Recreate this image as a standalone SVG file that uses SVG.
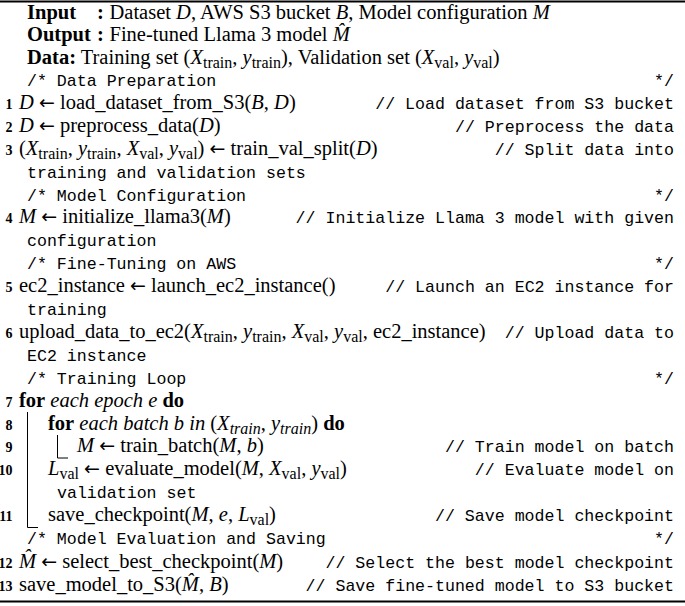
<svg xmlns="http://www.w3.org/2000/svg" width="685" height="606" viewBox="0 0 685 606">
<style>
text { fill: #000; }
.rm { font-family: "Liberation Serif", "DejaVu Serif", serif; font-size: 20.5px; }
.b { font-weight: bold; }
.i { font-style: italic; }
.sub { font-size: 16px; }
.ar { font-family: "DejaVu Sans", sans-serif; font-size: 19px; }
.tt { font-family: "Liberation Mono", "DejaVu Sans Mono", monospace; font-size: 16.6px; }
.cm { font-family: "Liberation Mono", "DejaVu Sans Mono", monospace; font-size: 16.6px; text-anchor: end; }
.ln { font-family: "Liberation Serif", "DejaVu Serif", serif; font-size: 14px; font-weight: bold; text-anchor: end; }
.rule { stroke: #000; stroke-width: 2; }
.bar { stroke: #000; stroke-width: 1; fill: none; }
</style>
<line class="rule" x1="0" y1="1.5" x2="685" y2="1.5"/>
<line class="rule" x1="0" y1="601.5" x2="685" y2="601.5"/>

<g id="header">
<text class="rm" y="19"><tspan x="27" class="b">Input</tspan><tspan x="97" class="b">:</tspan><tspan x="109.5">Dataset </tspan><tspan class="i">D</tspan><tspan>, AWS S3 bucket </tspan><tspan class="i">B</tspan><tspan>, Model configuration </tspan><tspan class="i">M</tspan></text>
<text class="rm" y="41.3"><tspan x="27" class="b">Output</tspan><tspan x="97" class="b">:</tspan><tspan x="109.5">Fine-tuned Llama 3 model </tspan><tspan class="i">M&#770;</tspan></text>
<text class="rm" y="63.6"><tspan x="27" class="b">Data:</tspan><tspan> Training set (</tspan><tspan class="i">X</tspan><tspan class="sub" dy="4">train</tspan><tspan dy="-4">, </tspan><tspan class="i">y</tspan><tspan class="sub" dy="4">train</tspan><tspan dy="-4">), Validation set (</tspan><tspan class="i">X</tspan><tspan class="sub" dy="4">val</tspan><tspan dy="-4">, </tspan><tspan class="i">y</tspan><tspan class="sub" dy="4">val</tspan><tspan dy="-4">)</tspan></text>
</g>

<g id="sec-data-preparation">
<text class="tt" x="27" y="86">/* Data Preparation</text>
<text class="cm" x="674" y="86">*/</text>
</g>

<g id="line-1">
<text class="ln" x="12.5" y="108.9">1</text>
<text class="rm" x="19" y="108.9"><tspan class="i">D</tspan><tspan> </tspan><tspan class="ar">←</tspan><tspan> load_dataset_from_S3(</tspan><tspan class="i">B</tspan><tspan>, </tspan><tspan class="i">D</tspan><tspan>)</tspan></text>
<text class="cm" x="674" y="108.9">// Load dataset from S3 bucket</text>
</g>

<g id="line-2">
<text class="ln" x="12.5" y="131.8">2</text>
<text class="rm" x="19" y="131.8"><tspan class="i">D</tspan><tspan> </tspan><tspan class="ar">←</tspan><tspan> preprocess_data(</tspan><tspan class="i">D</tspan><tspan>)</tspan></text>
<text class="cm" x="674" y="131.8">// Preprocess the data</text>
</g>

<g id="line-3">
<text class="ln" x="12.5" y="154.7">3</text>
<text class="rm" x="19" y="154.7"><tspan>(</tspan><tspan class="i">X</tspan><tspan class="sub" dy="4">train</tspan><tspan dy="-4">, </tspan><tspan class="i">y</tspan><tspan class="sub" dy="4">train</tspan><tspan dy="-4">, </tspan><tspan class="i">X</tspan><tspan class="sub" dy="4">val</tspan><tspan dy="-4">, </tspan><tspan class="i">y</tspan><tspan class="sub" dy="4">val</tspan><tspan dy="-4">) </tspan><tspan class="ar">←</tspan><tspan> train_val_split(</tspan><tspan class="i">D</tspan><tspan>)</tspan></text>
<text class="cm" x="674" y="154.7">// Split data into</text>
<text class="tt" x="27" y="177.6">training and validation sets</text>
</g>

<g id="sec-model-configuration">
<text class="tt" x="27" y="200.5">/* Model Configuration</text>
<text class="cm" x="674" y="200.5">*/</text>
</g>

<g id="line-4">
<text class="ln" x="12.5" y="223.4">4</text>
<text class="rm" x="19" y="223.4"><tspan class="i">M</tspan><tspan> </tspan><tspan class="ar">←</tspan><tspan> initialize_llama3(</tspan><tspan class="i">M</tspan><tspan>)</tspan></text>
<text class="cm" x="674" y="223.4">// Initialize Llama 3 model with given</text>
<text class="tt" x="27" y="246.3">configuration</text>
</g>

<g id="sec-fine-tuning">
<text class="tt" x="27" y="269.2">/* Fine-Tuning on AWS</text>
<text class="cm" x="674" y="269.2">*/</text>
</g>

<g id="line-5">
<text class="ln" x="12.5" y="292.1">5</text>
<text class="rm" x="19" y="292.1"><tspan>ec2_instance </tspan><tspan class="ar">←</tspan><tspan> launch_ec2_instance()</tspan></text>
<text class="cm" x="674" y="292.1">// Launch an EC2 instance for</text>
<text class="tt" x="27" y="315">training</text>
</g>

<g id="line-6">
<text class="ln" x="12.5" y="337.9">6</text>
<text class="rm" x="19" y="337.9"><tspan>upload_data_to_ec2(</tspan><tspan class="i">X</tspan><tspan class="sub" dy="4">train</tspan><tspan dy="-4">, </tspan><tspan class="i">y</tspan><tspan class="sub" dy="4">train</tspan><tspan dy="-4">, </tspan><tspan class="i">X</tspan><tspan class="sub" dy="4">val</tspan><tspan dy="-4">, </tspan><tspan class="i">y</tspan><tspan class="sub" dy="4">val</tspan><tspan dy="-4">, ec2_instance)</tspan></text>
<text class="cm" x="674" y="337.9">// Upload data to</text>
<text class="tt" x="27" y="360.8">EC2 instance</text>
</g>

<g id="sec-training-loop">
<text class="tt" x="27" y="383.7">/* Training Loop</text>
<text class="cm" x="674" y="383.7">*/</text>
</g>

<g id="line-7">
<text class="ln" x="12.5" y="406.6">7</text>
<text class="rm" x="19" y="406.6"><tspan class="b">for</tspan><tspan class="i"> each epoch e </tspan><tspan class="b">do</tspan></text>
</g>

<g id="line-8">
<text class="ln" x="12.5" y="429.5">8</text>
<text class="rm" x="48" y="429.5"><tspan class="b">for</tspan><tspan class="i"> each batch b in </tspan><tspan>(</tspan><tspan class="i">X</tspan><tspan class="sub i" dy="4">train</tspan><tspan dy="-4">, </tspan><tspan class="i">y</tspan><tspan class="sub i" dy="4">train</tspan><tspan dy="-4">) </tspan><tspan class="b">do</tspan></text>
</g>

<g id="line-9">
<text class="ln" x="12.5" y="452.4">9</text>
<text class="rm" x="77" y="452.4"><tspan class="i">M</tspan><tspan> </tspan><tspan class="ar">←</tspan><tspan> train_batch(</tspan><tspan class="i">M</tspan><tspan>, </tspan><tspan class="i">b</tspan><tspan>)</tspan></text>
<text class="cm" x="674" y="452.4">// Train model on batch</text>
</g>

<g id="line-10">
<text class="ln" x="12.5" y="475.3">10</text>
<text class="rm" x="48" y="475.3"><tspan class="i">L</tspan><tspan class="sub" dy="4">val</tspan><tspan dy="-4"> </tspan><tspan class="ar">←</tspan><tspan> evaluate_model(</tspan><tspan class="i">M</tspan><tspan>, </tspan><tspan class="i">X</tspan><tspan class="sub" dy="4">val</tspan><tspan dy="-4">, </tspan><tspan class="i">y</tspan><tspan class="sub" dy="4">val</tspan><tspan dy="-4">)</tspan></text>
<text class="cm" x="674" y="475.3">// Evaluate model on</text>
<text class="tt" x="57" y="498.2">validation set</text>
</g>

<g id="line-11">
<text class="ln" x="12.5" y="521.1">11</text>
<text class="rm" x="48" y="521.1"><tspan>save_checkpoint(</tspan><tspan class="i">M</tspan><tspan>, </tspan><tspan class="i">e</tspan><tspan>, </tspan><tspan class="i">L</tspan><tspan class="sub" dy="4">val</tspan><tspan dy="-4">)</tspan></text>
<text class="cm" x="674" y="521.1">// Save model checkpoint</text>
</g>

<g id="sec-model-evaluation">
<text class="tt" x="27" y="544">/* Model Evaluation and Saving</text>
<text class="cm" x="674" y="544">*/</text>
</g>

<g id="line-12">
<text class="ln" x="12.5" y="567.5">12</text>
<text class="rm" x="19" y="567.5"><tspan class="i">M&#770;</tspan><tspan> </tspan><tspan class="ar">←</tspan><tspan> select_best_checkpoint(</tspan><tspan class="i">M</tspan><tspan>)</tspan></text>
<text class="cm" x="674" y="567.5">// Select the best model checkpoint</text>
</g>

<g id="line-13">
<text class="ln" x="12.5" y="591">13</text>
<text class="rm" x="19" y="591"><tspan>save_model_to_S3(</tspan><tspan class="i">M&#770;</tspan><tspan>, </tspan><tspan class="i">B</tspan><tspan>)</tspan></text>
<text class="cm" x="674" y="591">// Save fine-tuned model to S3 bucket</text>
</g>

<g id="connectors">
<path class="bar" d="M27.5,412 V527.5 H38"/>
<path class="bar" d="M57.5,435 V458 H68"/>
</g>
</svg>
